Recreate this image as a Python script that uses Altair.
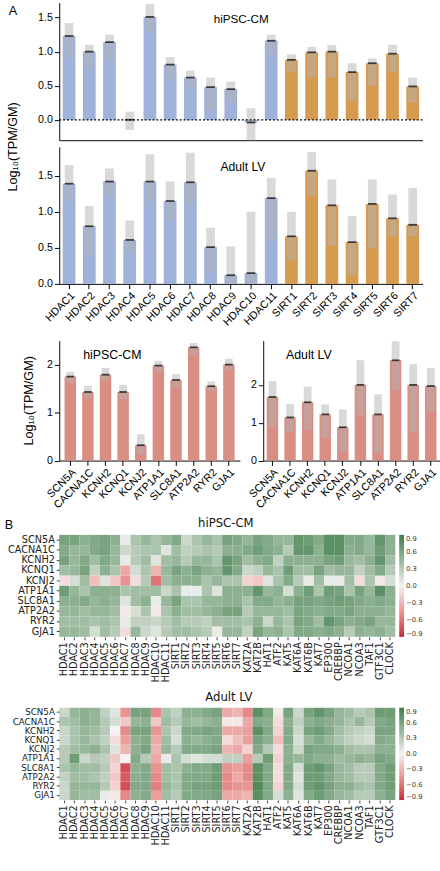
import altair as alt
import pandas as pd

FONT = "Liberation Sans"
HFONT = "DejaVu Sans"

# ---------------- data: HDAC / SIRT expression ----------------
hs_genes = ["HDAC1", "HDAC2", "HDAC3", "HDAC4", "HDAC5", "HDAC6", "HDAC7", "HDAC8", "HDAC9",
            "HDAC10", "HDAC11", "SIRT1", "SIRT2", "SIRT3", "SIRT4", "SIRT5", "SIRT6", "SIRT7"]
hs_family = ["HDAC"] * 11 + ["SIRT"] * 7

ipsc_mean = [1.23, 1.00, 1.14, 0.00, 1.51, 0.81, 0.62, 0.48, 0.45, -0.04, 1.16,
             0.88, 0.99, 1.00, 0.70, 0.83, 0.97, 0.49]
ipsc_lo = [0.90, 0.75, 0.88, -0.15, 1.30, 0.60, 0.45, 0.15, 0.25, -0.30, 0.95,
           0.70, 0.62, 0.62, 0.28, 0.50, 0.70, 0.25]
ipsc_hi = [1.42, 1.10, 1.25, 0.12, 1.70, 0.92, 0.72, 0.62, 0.56, 0.17, 1.25,
           0.96, 1.07, 1.10, 0.83, 0.90, 1.10, 0.62]

lv_mean = [1.39, 0.80, 1.42, 0.61, 1.42, 1.15, 1.41, 0.51, 0.12, 0.15, 1.19,
           0.66, 1.57, 1.09, 0.58, 1.11, 0.91, 0.82]
lv_lo = [1.15, 0.40, 1.22, 0.42, 1.15, 0.88, 1.10, 0.15, 0.00, 0.00, 0.60,
         0.32, 1.22, 0.53, 0.12, 0.49, 0.66, 0.66]
lv_hi = [1.65, 1.08, 1.60, 0.88, 1.80, 1.42, 1.82, 0.78, 0.52, 1.00, 1.47,
         1.00, 1.83, 1.45, 0.94, 1.45, 1.24, 1.33]

# ---------------- data: ion channel / calcium handling genes ----------------
ch_genes = ["SCN5A", "CACNA1C", "KCNH2", "KCNQ1", "KCNJ2", "ATP1A1", "SLC8A1", "ATP2A2", "RYR2", "GJA1"]
ipsc_ch_mean = [1.75, 1.43, 1.79, 1.43, 0.32, 1.98, 1.68, 2.36, 1.55, 2.00]
ipsc_ch_lo = [1.62, 1.30, 1.66, 1.28, 0.12, 1.85, 1.55, 2.20, 1.45, 1.88]
ipsc_ch_hi = [1.85, 1.56, 1.93, 1.58, 0.55, 2.08, 1.80, 2.45, 1.65, 2.12]
lv_ch_mean = [1.68, 1.14, 1.54, 1.22, 0.88, 2.00, 1.22, 2.65, 2.00, 1.97]
lv_ch_lo = [0.90, 0.75, 0.80, 0.60, 0.22, 1.20, 0.20, 1.85, 0.75, 1.30]
lv_ch_hi = [2.10, 1.50, 1.95, 1.48, 1.35, 2.65, 1.75, 3.15, 2.55, 2.45]

# ---------------- data: correlation heatmaps ----------------
heat_cols = ["HDAC1", "HDAC2", "HDAC3", "HDAC4", "HDAC5", "HDAC6", "HDAC7", "HDAC8", "HDAC9", "HDAC10",
             "HDAC11", "SIRT1", "SIRT2", "SIRT3", "SIRT4", "SIRT5", "SIRT6", "SIRT7", "KAT2A", "KAT2B",
             "HAT1", "ATF2", "KAT5", "KAT6A", "KAT6B", "KAT7", "EP300", "CREBBP", "NCOA1", "NCOA3",
             "TAF1", "GTF3C1", "CLOCK"]
heat_rows = ch_genes

ipsc_corr = [
    [0.60, 0.60, 0.50, 0.55, 0.60, 0.50, 0.05, 0.35, 0.45, 0.35, 0.45, 0.55, 0.20, 0.35, 0.45, 0.35, 0.60,
     0.55, 0.45, 0.60, 0.55, 0.45, 0.45, 0.70, 0.65, 0.55, 0.75, 0.75, 0.55, 0.55, 0.45, 0.70, 0.50],
    [0.55, 0.45, 0.45, 0.55, 0.60, 0.45, 0.20, 0.30, 0.35, 0.35, 0.10, 0.40, 0.25, 0.30, 0.35, 0.30, 0.50,
     0.50, 0.55, 0.65, 0.55, 0.50, 0.30, 0.70, 0.70, 0.50, 0.75, 0.75, 0.50, 0.55, 0.45, 0.65, 0.50],
    [0.60, 0.45, 0.55, 0.40, 0.55, 0.45, 0.05, 0.30, 0.40, 0.10, 0.40, 0.45, 0.30, 0.45, 0.45, 0.35, 0.70,
     0.60, 0.40, 0.50, 0.55, 0.25, 0.50, 0.50, 0.50, 0.50, 0.60, 0.65, 0.45, 0.40, 0.50, 0.70, 0.40],
    [0.40, 0.45, 0.60, 0.25, 0.50, 0.35, -0.35, 0.15, 0.35, -0.30, 0.45, 0.60, 0.50, 0.60, 0.50, 0.45, 0.70,
     0.55, 0.20, 0.25, 0.45, 0.35, 0.65, 0.40, 0.40, 0.60, 0.40, 0.45, 0.45, 0.25, 0.40, 0.55, 0.30],
    [-0.10, 0.15, 0.40, -0.25, 0.10, -0.20, -0.45, -0.10, 0.30, -0.60, 0.40, 0.50, 0.50, 0.50, 0.35, 0.45,
     0.35, 0.35, -0.15, -0.20, 0.10, 0.35, 0.55, 0.30, 0.05, 0.40, 0.05, 0.05, 0.40, -0.10, 0.35, -0.05, 0.15],
    [0.65, 0.45, 0.35, 0.50, 0.50, 0.50, 0.35, 0.40, 0.40, 0.40, 0.20, 0.35, 0.05, 0.05, 0.35, 0.10, 0.50,
     0.50, 0.50, 0.70, 0.45, 0.50, 0.15, 0.50, 0.65, 0.35, 0.65, 0.60, 0.35, 0.60, 0.45, 0.75, 0.50],
    [0.50, 0.50, 0.55, 0.45, 0.50, 0.45, 0.10, 0.40, 0.50, 0.05, 0.45, 0.60, 0.35, 0.35, 0.45, 0.45, 0.50,
     0.50, 0.35, 0.55, 0.55, 0.45, 0.50, 0.60, 0.60, 0.55, 0.60, 0.65, 0.60, 0.55, 0.50, 0.55, 0.50],
    [0.45, 0.45, 0.40, 0.45, 0.45, 0.40, -0.05, 0.15, 0.35, -0.05, 0.35, 0.50, 0.40, 0.40, 0.45, 0.50, 0.60,
     0.60, 0.30, 0.45, 0.45, 0.45, 0.40, 0.60, 0.55, 0.50, 0.55, 0.55, 0.60, 0.50, 0.50, 0.50, 0.45],
    [0.40, 0.40, 0.40, 0.35, 0.40, 0.35, 0.05, 0.25, 0.25, 0.20, 0.30, 0.40, 0.30, 0.30, 0.25, 0.40, 0.40,
     0.40, 0.35, 0.50, 0.20, 0.45, 0.35, 0.60, 0.55, 0.40, 0.70, 0.60, 0.50, 0.55, 0.60, 0.45, 0.45],
    [0.45, 0.45, 0.40, 0.15, 0.40, 0.30, -0.10, 0.45, 0.20, 0.10, 0.30, 0.40, 0.40, 0.35, 0.30, 0.05, 0.45,
     0.45, 0.25, 0.60, 0.45, 0.50, 0.35, 0.55, 0.55, 0.50, 0.55, 0.50, 0.30, 0.50, 0.45, 0.50, 0.40],
]

lv_corr = [
    [0.20, 0.45, 0.50, 0.45, 0.25, 0.10, -0.45, 0.60, 0.60, -0.50, 0.35, 0.25, 0.50, 0.50, 0.55, 0.60, -0.35,
     -0.30, -0.50, 0.75, 0.55, -0.05, 0.60, 0.20, 0.60, 0.70, 0.60, 0.45, 0.40, 0.30, 0.35, 0.65, 0.65],
    [0.35, 0.40, 0.50, 0.45, 0.30, 0.15, -0.20, 0.45, 0.50, -0.20, 0.40, 0.30, 0.45, 0.40, 0.45, 0.50, -0.05,
     -0.05, -0.35, 0.55, 0.50, -0.10, 0.50, 0.25, 0.50, 0.55, 0.50, 0.45, 0.35, 0.45, 0.30, 0.55, 0.60],
    [0.20, 0.35, 0.45, 0.40, 0.30, 0.00, -0.50, 0.60, 0.60, -0.45, 0.35, 0.20, 0.55, 0.55, 0.60, 0.55, -0.35,
     -0.35, -0.40, 0.75, 0.55, -0.15, 0.55, 0.20, 0.60, 0.65, 0.55, 0.40, 0.30, 0.25, 0.20, 0.60, 0.60],
    [0.20, 0.35, 0.45, 0.35, 0.25, -0.10, -0.40, 0.50, 0.55, -0.35, 0.40, 0.15, 0.50, 0.45, 0.50, 0.55, -0.10,
     -0.25, -0.40, 0.60, 0.50, -0.25, 0.55, 0.15, 0.45, 0.55, 0.45, 0.35, 0.25, 0.20, 0.15, 0.55, 0.50],
    [0.30, 0.40, 0.45, 0.50, 0.35, 0.10, -0.30, 0.50, 0.60, -0.30, 0.45, 0.30, 0.55, 0.55, 0.55, 0.60, -0.30,
     -0.35, -0.15, 0.55, 0.30, -0.10, 0.50, 0.20, 0.60, 0.55, 0.55, 0.50, 0.40, 0.35, 0.35, 0.50, 0.50],
    [0.30, 0.65, 0.20, 0.30, 0.25, -0.20, 0.00, 0.55, 0.30, -0.35, 0.05, 0.35, 0.15, 0.10, 0.15, 0.15, 0.25,
     0.25, -0.40, 0.30, 0.65, -0.15, 0.50, 0.45, 0.55, 0.50, 0.50, 0.40, 0.45, 0.50, 0.45, 0.60, 0.55],
    [0.35, 0.45, 0.40, 0.40, 0.30, -0.15, -0.75, 0.50, 0.55, -0.45, 0.40, 0.35, 0.50, 0.55, 0.55, 0.65, -0.45,
     -0.40, -0.50, 0.75, 0.55, -0.10, 0.55, 0.15, 0.65, 0.70, 0.60, 0.45, 0.40, 0.30, 0.30, 0.55, 0.65],
    [0.25, 0.40, 0.40, 0.35, 0.25, -0.20, -0.70, 0.50, 0.55, -0.50, 0.40, 0.35, 0.55, 0.55, 0.55, 0.65, -0.50,
     -0.35, -0.50, 0.75, 0.55, -0.10, 0.55, 0.10, 0.65, 0.65, 0.55, 0.45, 0.40, 0.30, 0.30, 0.55, 0.65],
    [0.20, 0.45, 0.45, 0.45, 0.30, -0.15, -0.75, 0.55, 0.55, -0.55, 0.45, 0.35, 0.55, 0.60, 0.60, 0.65, -0.50,
     -0.45, -0.45, 0.80, 0.55, -0.15, 0.55, 0.15, 0.65, 0.70, 0.60, 0.50, 0.50, 0.40, 0.35, 0.55, 0.65],
    [0.20, 0.45, 0.40, 0.40, 0.05, -0.05, -0.50, 0.50, 0.55, -0.40, 0.40, 0.30, 0.55, 0.55, 0.55, 0.60, -0.35,
     -0.35, -0.30, 0.75, 0.55, 0.15, 0.50, 0.10, 0.55, 0.65, 0.55, 0.45, 0.40, 0.30, 0.30, 0.50, 0.60],
]

# ---------------- styling ----------------
C_HDAC = "#9fb2da"
C_SIRT = "#d69b4e"
C_CHAN = "#d98e84"
C_DOTS = "#b4b4b4"
HEAT_RANGE = ["#c8213f", "#f4f2f2", "#3a7d4a"]
PAD_L = 2


def one(txt):
    return pd.DataFrame({"t": [txt]})


def pin(x, y, baseline="middle"):
    return alt.Chart(one(".")).mark_text(opacity=0, fontSize=6, align="left", baseline=baseline).encode(
        text="t:N", x=alt.value(x), y=alt.value(y))


def label(txt, x, y, size, font=FONT, align="left", angle=0, color="black"):
    return alt.Chart(one(txt)).mark_text(font=font, fontSize=size, align=align, baseline="middle",
                                          color=color, angle=angle).encode(
        text="t:N", x=alt.value(x), y=alt.value(y))


def bar_panel(genes, fam, mean, lo, hi, cdom, crng, width, height, ydom, yvals, yfmt, pi, po,
              xlabels, band_w, extras):
    df = pd.DataFrame({"gene": genes, "fam": fam, "mean": mean, "lo": lo, "hi": hi})
    xsc = alt.Scale(domain=genes, paddingInner=pi, paddingOuter=po)
    if xlabels:
        xax = alt.Axis(title=None, labelAngle=-45, labelFont=FONT, labelFontSize=11, labelColor="black",
                       tickColor="black", domainColor="black", tickSize=5, labelPadding=1)
    else:
        xax = alt.Axis(title=None, labels=False, ticks=False, domainColor="black")
    ysc = alt.Scale(domain=ydom, nice=False)
    yax = alt.Axis(title=None, values=yvals, format=yfmt, labelFont=FONT, labelFontSize=11,
                   labelColor="black", tickColor="black", domainColor="black", tickSize=5, grid=False)
    x = alt.X("gene:N", sort=genes, scale=xsc, axis=xax)
    bars = alt.Chart(df).mark_bar().encode(
        x=x, y=alt.Y("mean:Q", scale=ysc, axis=yax),
        color=alt.Color("fam:N", scale=alt.Scale(domain=cdom, range=crng), legend=None))
    dots = alt.Chart(df).mark_bar(width=band_w, color=C_DOTS, opacity=0.5).encode(
        x=x, y=alt.Y("lo:Q", scale=ysc), y2="hi:Q")
    ticks = alt.Chart(df).mark_tick(color="black", thickness=1.8, size=band_w).encode(
        x=x, y=alt.Y("mean:Q", scale=ysc))
    return alt.layer(bars, dots, ticks, *extras).properties(width=width, height=height)


# ---- panel A top: hiPSC-CM HDAC/SIRT ----
zero_line = alt.Chart(one("z")).mark_rule(color="black", strokeDash=[2, 2], strokeWidth=1.3).encode(
    y=alt.datum(0))
c1 = bar_panel(hs_genes, hs_family, ipsc_mean, ipsc_lo, ipsc_hi, ["HDAC", "SIRT"], [C_HDAC, C_SIRT],
               374, 141.7, [-0.3, 1.72], [0, 0.5, 1.0, 1.5], ".1f", 0.37, 0.17, False, 9,
               [zero_line, label("A", -52, 9, 13), label("hiPSC-CM", 159, 17.5, 12),
                pin(-(59.3 - PAD_L), 60)])

# ---- panel A middle: adult LV HDAC/SIRT ----
c2 = bar_panel(hs_genes, hs_family, lv_mean, lv_lo, lv_hi, ["HDAC", "SIRT"], [C_HDAC, C_SIRT],
               374, 141, [0, 1.9], [0, 0.5, 1.0, 1.5], ".1f", 0.37, 0.17, True, 9,
               [label("Adult LV", 166, 20.7, 12.5),
                label("Log\u2081\u2080(TPM/GM)", -47.5, 0, 13, align="center", angle=270),
                pin(-(59.3 - PAD_L), 60), pin(0, 191.7, baseline="bottom")])

# ---- panel A bottom: channel genes ----
c3 = bar_panel(ch_genes, ["ch"] * 10, ipsc_ch_mean, ipsc_ch_lo, ipsc_ch_hi, ["ch"], [C_CHAN],
               186, 123.5, [0, 2.5], [0, 1, 2], "d", 0.35, 0.3, True, 8,
               [label("hiPSC-CM", 24.7, 14.7, 12.7),
                label("Log\u2081\u2080(TPM/GM)", -30.8, 62, 13, align="center", angle=270),
                pin(-(43.3 - PAD_L), 60), pin(0, -6, baseline="top"), pin(0, 177, baseline="bottom")])
c4 = bar_panel(ch_genes, ["ch"] * 10, lv_ch_mean, lv_ch_lo, lv_ch_hi, ["ch"], [C_CHAN],
               182, 123.5, [0, 3.17], [0, 1, 2], "d", 0.35, 0.2, True, 8,
               [label("Adult LV", 23.4, 14.7, 12.7)])


# ---- panel B heatmaps ----
def heat_panel(mat, height, rowfont, extras):
    recs = []
    for r, row in zip(heat_rows, mat):
        for c, v in zip(heat_cols, row):
            recs.append({"row": r, "col": c, "val": v})
    df = pd.DataFrame(recs)
    rect = alt.Chart(df).mark_rect().encode(
        x=alt.X("col:N", sort=heat_cols,
                axis=alt.Axis(title=None, labelAngle=-90, labelFont=HFONT, labelFontSize=10,
                              labelColor="#222", tickColor="#444", tickSize=3, domain=False,
                              labelPadding=2)),
        y=alt.Y("row:N", sort=heat_rows,
                axis=alt.Axis(title=None, labelFont=HFONT, labelFontSize=rowfont, labelColor="#222",
                              tickColor="#444", tickSize=3, domain=False, labelPadding=2)),
        color=alt.Color("val:Q",
                        scale=alt.Scale(domain=[-0.9, 0, 0.9], range=HEAT_RANGE, interpolate="lab"),
                        legend=alt.Legend(title=None, orient="right", offset=4, gradientLength=height,
                                          gradientThickness=5, gradientStrokeWidth=0,
                                          values=[0.9, 0.6, 0.3, 0.0, -0.3, -0.6, -0.9], format=".1f",
                                          labelFont=HFONT, labelFontSize=7, labelColor="#333",
                                          labelOverlap=False)))
    return alt.layer(rect, *extras).properties(width=346, height=height)


h1 = heat_panel(ipsc_corr, 105, 10,
                [label("B", -56, -10, 13), label("hiPSC-CM", 171.5, -12, 12, font=HFONT, align="center",
                                                 color="#111"),
                 pin(-(61 - PAD_L), 50), pin(0, -22, baseline="top"), pin(0, 159, baseline="bottom")])
h2 = heat_panel(lv_corr, 95, 9,
                [label("Adult LV", 174.7, -11, 12, font=HFONT, align="center", color="#111"),
                 pin(-(61 - PAD_L), 50), pin(0, -18, baseline="top")])

top = alt.vconcat(c1, c2, spacing=6.6, bounds="flush")
row3 = alt.hconcat(c3, c4, spacing=24, bounds="flush")

chart = alt.ConcatChart(concat=[top, row3, h1, h2], columns=1, spacing=1, align="none",
                        bounds="full").properties(
    padding={"left": PAD_L, "top": -10, "right": 0, "bottom": 0},
    background="white",
).configure_view(stroke=None)

chart.save("out.html", embed_options={"renderer": "svg", "actions": False})
